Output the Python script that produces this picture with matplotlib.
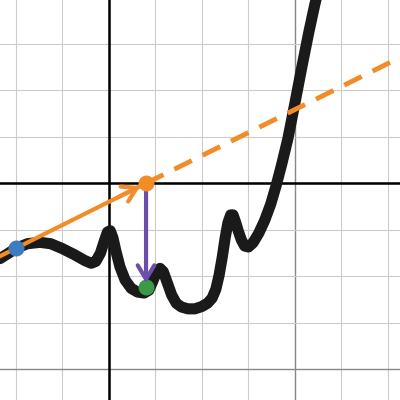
import numpy as np
import matplotlib.pyplot as plt

# curve samples (graph units)
curve_x = [-2.34, -2.15, -2.0, -1.75, -1.48, -1.25, -1.01, -0.75, -0.52, -0.38, -0.28, -0.18, -0.10, -0.03,
           0.03, 0.09, 0.15, 0.24, 0.35, 0.48, 0.62, 0.76, 0.86, 0.94, 1.02, 1.10, 1.17, 1.25, 1.35,
           1.45, 1.56, 1.70, 1.85, 2.00, 2.12, 2.22, 2.30, 2.37, 2.44, 2.50, 2.56, 2.62, 2.67, 2.72,
           2.78, 2.85, 2.92, 3.00, 3.10, 3.22, 3.35, 3.48, 3.60, 3.72, 3.85, 4.00, 4.15, 4.30, 4.43, 4.54]
curve_y = [-1.62, -1.50, -1.40, -1.30, -1.27, -1.30, -1.40, -1.53, -1.66, -1.72, -1.68, -1.50, -1.25, -1.05,
           -1.02, -1.18, -1.45, -1.80, -2.08, -2.26, -2.34, -2.36, -2.30, -2.12, -1.92, -1.83, -1.90, -2.12, -2.40,
           -2.58, -2.66, -2.70, -2.70, -2.65, -2.58, -2.47, -2.28, -1.98, -1.58, -1.18, -0.85, -0.68, -0.68, -0.82,
           -1.02, -1.22, -1.35, -1.37, -1.28, -1.08, -0.80, -0.45, -0.04, 0.42, 0.96, 1.72, 2.50, 3.25, 3.85, 4.30]

start_pt = (-2.0, -1.4)
tangent_pt = (0.8, 0.0)
slope = 0.495
target_pt = (0.8, -2.24)
arrow_end_y = -2.15

fig = plt.figure(figsize=(4, 4), dpi=100)
ax = fig.add_axes([0, 0, 1, 1])
xmin, xmax, ymin, ymax = -2.34, 6.26, -4.66, 3.94
ax.set_xlim(xmin, xmax)
ax.set_ylim(ymin, ymax)

for g in np.arange(-2, 7):
    ax.axvline(g, color='#888' if g % 4 == 0 else '#ccc', lw=1 if g % 4 == 0 else 0.8, zorder=0)
for g in np.arange(-4, 4):
    ax.axhline(g, color='#888' if g % 4 == 0 else '#ccc', lw=1 if g % 4 == 0 else 0.8, zorder=0)
ax.axvline(0, color='black', lw=1.8, zorder=1)
ax.axhline(0, color='black', lw=1.8, zorder=1)

ax.plot(curve_x, curve_y, color='#1a1a1a', lw=8, solid_capstyle='round', solid_joinstyle='round', zorder=2)

orange = '#f28c28'
head = '->,head_length=1.0,head_width=0.6'
x0 = xmin
ax.plot([x0, tangent_pt[0]], [start_pt[1] + slope * (x0 - start_pt[0]), tangent_pt[1]],
        color=orange, lw=3, zorder=3)
ax.annotate('', xy=(tangent_pt[0] - 0.12, -0.06), xytext=(0.2, -0.3),
            arrowprops=dict(arrowstyle=head, color=orange, lw=3,
                            shrinkA=0, shrinkB=0, joinstyle='round', capstyle='round'), zorder=3)
tx = np.array([tangent_pt[0], xmax])
ax.plot(tx, tangent_pt[1] + slope * (tx - tangent_pt[0]), color=orange, lw=3.5, ls=(0, (4, 2.5)), zorder=3)

ax.annotate('', xy=(tangent_pt[0], arrow_end_y), xytext=tangent_pt,
            arrowprops=dict(arrowstyle=head, color='#6a4ea8', lw=3,
                            shrinkA=0, shrinkB=0, joinstyle='round', capstyle='round'), zorder=4)

ax.scatter(*target_pt, s=110, color='#3a9a4a', zorder=3)
ax.scatter(*start_pt, s=110, color='#3d7cc0', zorder=4)
ax.scatter(*tangent_pt, s=110, color=orange, zorder=5)
ax.set_axis_off()
fig.savefig('out.png', dpi=100)
